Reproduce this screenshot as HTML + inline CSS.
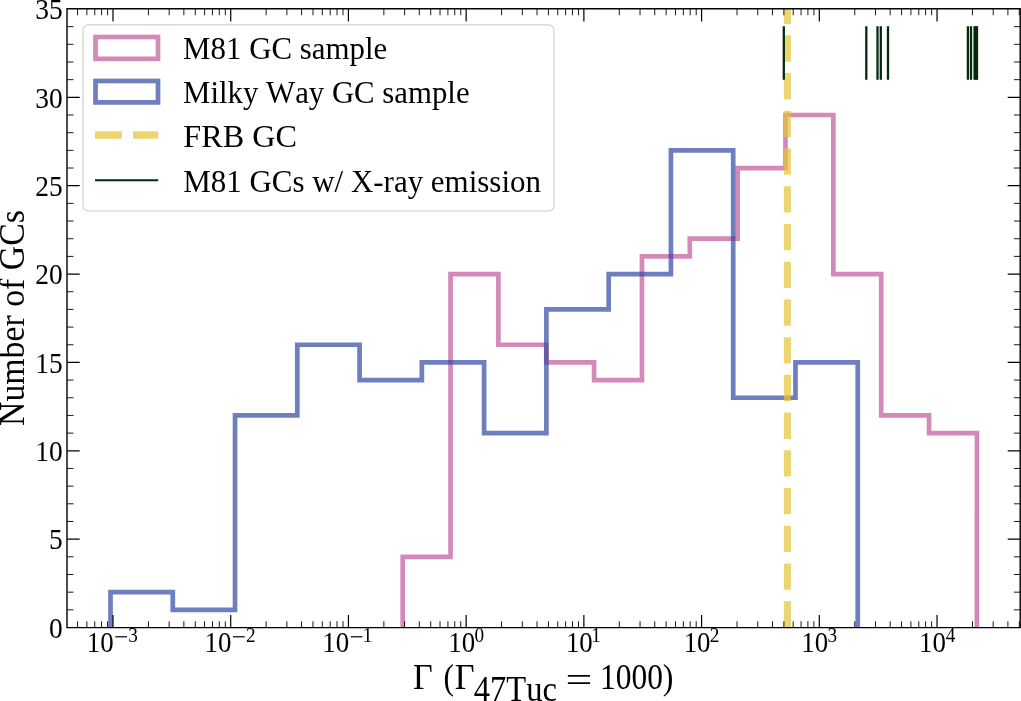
<!DOCTYPE html><html><head><meta charset="utf-8"><style>html,body{margin:0;padding:0;background:#fff;overflow:hidden}svg{display:block}text{font-family:"Liberation Serif", "DejaVu Serif", serif;fill:#000;font-kerning:none;font-variant-ligatures:none}</style></head><body>
<svg width="1021" height="701" viewBox="0 0 1021 701">
<rect width="1021" height="701" fill="#fff"/>
<defs><clipPath id="ax"><rect x="67.2" y="8.98" width="953.00" height="618.52"/></clipPath></defs>
<g clip-path="url(#ax)">
<path d="M402.70,627.50 L402.70,556.81 L450.55,556.81 L450.55,274.06 L498.40,274.06 L498.40,344.75 L546.25,344.75 L546.25,362.42 L594.10,362.42 L594.10,380.09 L641.95,380.09 L641.95,256.39 L689.80,256.39 L689.80,238.72 L737.65,238.72 L737.65,168.03 L785.50,168.03 L785.50,115.01 L833.35,115.01 L833.35,274.06 L881.20,274.06 L881.20,415.44 L929.05,415.44 L929.05,433.11 L976.90,433.11 L976.90,627.50" fill="none" stroke="rgb(194,88,154)" stroke-opacity="0.7" stroke-width="4.7" stroke-linejoin="miter" stroke-linecap="butt"/>
<path d="M110.50,627.50 L110.50,592.16 L172.77,592.16 L172.77,609.83 L235.04,609.83 L235.04,415.44 L297.31,415.44 L297.31,344.75 L359.58,344.75 L359.58,380.09 L421.85,380.09 L421.85,362.42 L484.12,362.42 L484.12,433.11 L546.39,433.11 L546.39,309.40 L608.66,309.40 L608.66,274.06 L670.93,274.06 L670.93,150.36 L733.20,150.36 L733.20,397.76 L795.47,397.76 L795.47,362.42 L857.74,362.42 L857.74,627.50" fill="none" stroke="rgb(48,71,162)" stroke-opacity="0.7" stroke-width="4.7" stroke-linejoin="miter" stroke-linecap="butt"/>
<line x1="787.4" y1="627.5" x2="787.4" y2="-21.02" stroke="rgb(228,197,54)" stroke-opacity="0.7" stroke-width="7.1" stroke-dasharray="26.33 11.39"/>
<line x1="783.8" y1="79.67" x2="783.8" y2="26.3" stroke="#032b0b" stroke-width="2.3"/>
<line x1="866.3" y1="79.67" x2="866.3" y2="26.3" stroke="#032b0b" stroke-width="2.3"/>
<line x1="877.5" y1="79.67" x2="877.5" y2="26.3" stroke="#032b0b" stroke-width="2.3"/>
<line x1="880.8" y1="79.67" x2="880.8" y2="26.3" stroke="#032b0b" stroke-width="2.3"/>
<line x1="888.0" y1="79.67" x2="888.0" y2="26.3" stroke="#032b0b" stroke-width="2.3"/>
<line x1="967.9" y1="79.67" x2="967.9" y2="26.3" stroke="#032b0b" stroke-width="2.3"/>
<line x1="971.0" y1="79.67" x2="971.0" y2="26.3" stroke="#032b0b" stroke-width="2.3"/>
<line x1="974.6" y1="79.67" x2="974.6" y2="26.3" stroke="#032b0b" stroke-width="2.3"/>
<line x1="975.8" y1="79.67" x2="975.8" y2="26.3" stroke="#032b0b" stroke-width="2.3"/>
<line x1="977.0" y1="79.67" x2="977.0" y2="26.3" stroke="#032b0b" stroke-width="2.3"/>
</g>
<path d="M112.99,627.5v-12.5M112.99,8.98v12.5M230.71,627.5v-12.5M230.71,8.98v12.5M348.43,627.5v-12.5M348.43,8.98v12.5M466.15,627.5v-12.5M466.15,8.98v12.5M583.87,627.5v-12.5M583.87,8.98v12.5M701.59,627.5v-12.5M701.59,8.98v12.5M819.31,627.5v-12.5M819.31,8.98v12.5M937.03,627.5v-12.5M937.03,8.98v12.5M67.2,539.14h12.5M1020.2,539.14h-12.5M67.2,450.78h12.5M1020.2,450.78h-12.5M67.2,362.42h12.5M1020.2,362.42h-12.5M67.2,274.06h12.5M1020.2,274.06h-12.5M67.2,185.70h12.5M1020.2,185.70h-12.5M67.2,97.34h12.5M1020.2,97.34h-12.5" stroke="#000" stroke-width="1.2" fill="none"/>
<path d="M77.55,627.5v-6.3M77.55,8.98v6.3M86.87,627.5v-6.3M86.87,8.98v6.3M94.75,627.5v-6.3M94.75,8.98v6.3M101.58,627.5v-6.3M101.58,8.98v6.3M107.60,627.5v-6.3M107.60,8.98v6.3M148.43,627.5v-6.3M148.43,8.98v6.3M169.16,627.5v-6.3M169.16,8.98v6.3M183.86,627.5v-6.3M183.86,8.98v6.3M195.27,627.5v-6.3M195.27,8.98v6.3M204.59,627.5v-6.3M204.59,8.98v6.3M212.47,627.5v-6.3M212.47,8.98v6.3M219.30,627.5v-6.3M219.30,8.98v6.3M225.32,627.5v-6.3M225.32,8.98v6.3M266.15,627.5v-6.3M266.15,8.98v6.3M286.88,627.5v-6.3M286.88,8.98v6.3M301.58,627.5v-6.3M301.58,8.98v6.3M312.99,627.5v-6.3M312.99,8.98v6.3M322.31,627.5v-6.3M322.31,8.98v6.3M330.19,627.5v-6.3M330.19,8.98v6.3M337.02,627.5v-6.3M337.02,8.98v6.3M343.04,627.5v-6.3M343.04,8.98v6.3M383.87,627.5v-6.3M383.87,8.98v6.3M404.60,627.5v-6.3M404.60,8.98v6.3M419.30,627.5v-6.3M419.30,8.98v6.3M430.71,627.5v-6.3M430.71,8.98v6.3M440.03,627.5v-6.3M440.03,8.98v6.3M447.91,627.5v-6.3M447.91,8.98v6.3M454.74,627.5v-6.3M454.74,8.98v6.3M460.76,627.5v-6.3M460.76,8.98v6.3M501.59,627.5v-6.3M501.59,8.98v6.3M522.32,627.5v-6.3M522.32,8.98v6.3M537.02,627.5v-6.3M537.02,8.98v6.3M548.43,627.5v-6.3M548.43,8.98v6.3M557.75,627.5v-6.3M557.75,8.98v6.3M565.63,627.5v-6.3M565.63,8.98v6.3M572.46,627.5v-6.3M572.46,8.98v6.3M578.48,627.5v-6.3M578.48,8.98v6.3M619.31,627.5v-6.3M619.31,8.98v6.3M640.04,627.5v-6.3M640.04,8.98v6.3M654.74,627.5v-6.3M654.74,8.98v6.3M666.15,627.5v-6.3M666.15,8.98v6.3M675.47,627.5v-6.3M675.47,8.98v6.3M683.35,627.5v-6.3M683.35,8.98v6.3M690.18,627.5v-6.3M690.18,8.98v6.3M696.20,627.5v-6.3M696.20,8.98v6.3M737.03,627.5v-6.3M737.03,8.98v6.3M757.76,627.5v-6.3M757.76,8.98v6.3M772.46,627.5v-6.3M772.46,8.98v6.3M783.87,627.5v-6.3M783.87,8.98v6.3M793.19,627.5v-6.3M793.19,8.98v6.3M801.07,627.5v-6.3M801.07,8.98v6.3M807.90,627.5v-6.3M807.90,8.98v6.3M813.92,627.5v-6.3M813.92,8.98v6.3M854.75,627.5v-6.3M854.75,8.98v6.3M875.48,627.5v-6.3M875.48,8.98v6.3M890.18,627.5v-6.3M890.18,8.98v6.3M901.59,627.5v-6.3M901.59,8.98v6.3M910.91,627.5v-6.3M910.91,8.98v6.3M918.79,627.5v-6.3M918.79,8.98v6.3M925.62,627.5v-6.3M925.62,8.98v6.3M931.64,627.5v-6.3M931.64,8.98v6.3M972.47,627.5v-6.3M972.47,8.98v6.3M993.20,627.5v-6.3M993.20,8.98v6.3M1007.90,627.5v-6.3M1007.90,8.98v6.3M1019.31,627.5v-6.3M1019.31,8.98v6.3M67.2,609.83h6.3M1020.2,609.83h-6.3M67.2,592.16h6.3M1020.2,592.16h-6.3M67.2,574.48h6.3M1020.2,574.48h-6.3M67.2,556.81h6.3M1020.2,556.81h-6.3M67.2,521.47h6.3M1020.2,521.47h-6.3M67.2,503.80h6.3M1020.2,503.80h-6.3M67.2,486.12h6.3M1020.2,486.12h-6.3M67.2,468.45h6.3M1020.2,468.45h-6.3M67.2,433.11h6.3M1020.2,433.11h-6.3M67.2,415.44h6.3M1020.2,415.44h-6.3M67.2,397.76h6.3M1020.2,397.76h-6.3M67.2,380.09h6.3M1020.2,380.09h-6.3M67.2,344.75h6.3M1020.2,344.75h-6.3M67.2,327.08h6.3M1020.2,327.08h-6.3M67.2,309.40h6.3M1020.2,309.40h-6.3M67.2,291.73h6.3M1020.2,291.73h-6.3M67.2,256.39h6.3M1020.2,256.39h-6.3M67.2,238.72h6.3M1020.2,238.72h-6.3M67.2,221.04h6.3M1020.2,221.04h-6.3M67.2,203.37h6.3M1020.2,203.37h-6.3M67.2,168.03h6.3M1020.2,168.03h-6.3M67.2,150.36h6.3M1020.2,150.36h-6.3M67.2,132.68h6.3M1020.2,132.68h-6.3M67.2,115.01h6.3M1020.2,115.01h-6.3M67.2,79.67h6.3M1020.2,79.67h-6.3M67.2,62.00h6.3M1020.2,62.00h-6.3M67.2,44.32h6.3M1020.2,44.32h-6.3M67.2,26.65h6.3M1020.2,26.65h-6.3" stroke="#000" stroke-width="0.9" fill="none"/>
<path d="M67.0,627.6V8.8M1020.2,627.6V8.8M66.30,627.6H1020.90M66.30,8.8H1020.90" fill="none" stroke="#000" stroke-width="1.4"/>
<rect x="83.0" y="24.8" width="471" height="186.2" rx="5.5" ry="5.5" fill="#fff" fill-opacity="0.8" stroke="#d0d0d0" stroke-width="1.2"/>
<rect x="95.5" y="37.0" width="62.5" height="21.8" fill="none" stroke="rgb(194,88,154)" stroke-opacity="0.7" stroke-width="4.7"/>
<rect x="95.5" y="81.0" width="62.5" height="21.4" fill="none" stroke="rgb(48,71,162)" stroke-opacity="0.7" stroke-width="4.7"/>
<line x1="95.0" y1="135.0" x2="158.2" y2="135.0" stroke="rgb(228,197,54)" stroke-opacity="0.7" stroke-width="7.4" stroke-dasharray="27 11"/>
<line x1="95.0" y1="180.3" x2="158.2" y2="180.3" stroke="#032b0b" stroke-width="2"/>
<text x="183.11" y="58.90" font-size="32.50" textLength="204.06" lengthAdjust="spacingAndGlyphs">M81 GC sample</text>
<text x="183.11" y="102.80" font-size="32.50" textLength="286.45" lengthAdjust="spacingAndGlyphs">Milky Way GC sample</text>
<text x="183.27" y="146.60" font-size="32.50" textLength="113.71" lengthAdjust="spacingAndGlyphs">FRB GC</text>
<text x="183.21" y="191.50" font-size="32.50" textLength="357.76" lengthAdjust="spacingAndGlyphs">M81 GCs w/ X-ray emission</text>
<text x="48.93" y="637.70" font-size="29.50" textLength="13.72" lengthAdjust="spacingAndGlyphs">0</text>
<text x="48.95" y="549.34" font-size="29.50" textLength="13.72" lengthAdjust="spacingAndGlyphs">5</text>
<text x="35.21" y="460.98" font-size="29.50" textLength="27.44" lengthAdjust="spacingAndGlyphs">10</text>
<text x="35.24" y="372.62" font-size="29.50" textLength="27.44" lengthAdjust="spacingAndGlyphs">15</text>
<text x="35.21" y="284.26" font-size="29.50" textLength="27.44" lengthAdjust="spacingAndGlyphs">20</text>
<text x="35.24" y="195.90" font-size="29.50" textLength="27.44" lengthAdjust="spacingAndGlyphs">25</text>
<text x="35.21" y="107.54" font-size="29.50" textLength="27.44" lengthAdjust="spacingAndGlyphs">30</text>
<text x="35.24" y="19.18" font-size="29.50" textLength="27.44" lengthAdjust="spacingAndGlyphs">35</text>
<text x="86.84" y="652.20" font-size="28.90" textLength="26.88" lengthAdjust="spacingAndGlyphs">10</text>
<rect x="115.29" y="636.2" width="11.7" height="1.2" fill="#000"/>
<text x="128.17" y="642.30" font-size="20.70" textLength="9.63" lengthAdjust="spacingAndGlyphs">3</text>
<text x="204.56" y="652.20" font-size="28.90" textLength="26.88" lengthAdjust="spacingAndGlyphs">10</text>
<rect x="233.01" y="636.2" width="11.7" height="1.2" fill="#000"/>
<text x="245.96" y="642.30" font-size="20.70" textLength="9.63" lengthAdjust="spacingAndGlyphs">2</text>
<text x="322.28" y="652.20" font-size="28.90" textLength="26.88" lengthAdjust="spacingAndGlyphs">10</text>
<rect x="350.73" y="636.2" width="11.7" height="1.2" fill="#000"/>
<text x="362.84" y="642.30" font-size="20.70" textLength="9.63" lengthAdjust="spacingAndGlyphs">1</text>
<text x="448.20" y="652.20" font-size="28.90" textLength="26.88" lengthAdjust="spacingAndGlyphs">10</text>
<text x="474.42" y="642.30" font-size="20.70" textLength="9.63" lengthAdjust="spacingAndGlyphs">0</text>
<text x="565.92" y="652.20" font-size="28.90" textLength="26.88" lengthAdjust="spacingAndGlyphs">10</text>
<text x="591.18" y="642.30" font-size="20.70" textLength="9.63" lengthAdjust="spacingAndGlyphs">1</text>
<text x="683.64" y="652.20" font-size="28.90" textLength="26.88" lengthAdjust="spacingAndGlyphs">10</text>
<text x="709.74" y="642.30" font-size="20.70" textLength="9.63" lengthAdjust="spacingAndGlyphs">2</text>
<text x="801.36" y="652.20" font-size="28.90" textLength="26.88" lengthAdjust="spacingAndGlyphs">10</text>
<text x="827.39" y="642.30" font-size="20.70" textLength="9.63" lengthAdjust="spacingAndGlyphs">3</text>
<text x="919.08" y="652.20" font-size="28.90" textLength="26.88" lengthAdjust="spacingAndGlyphs">10</text>
<text x="945.65" y="642.30" font-size="20.70" textLength="9.63" lengthAdjust="spacingAndGlyphs">4</text>
<g transform="translate(23.9,0) rotate(-90)"><text x="-425.97" y="0.00" font-size="34.80" textLength="215.79" lengthAdjust="spacingAndGlyphs">Number of GCs</text></g>
<text x="413.02" y="689.10" font-size="35.90" textLength="19.68" lengthAdjust="spacingAndGlyphs">Γ</text>
<text x="443.41" y="689.30" font-size="35.90" textLength="10.50" lengthAdjust="spacingAndGlyphs">(</text>
<text x="454.81" y="689.10" font-size="35.90" textLength="19.79" lengthAdjust="spacingAndGlyphs">Γ</text>
<text x="473.76" y="700.70" font-size="35.90" textLength="83.24" lengthAdjust="spacingAndGlyphs">47Tuc</text>
<text x="565.42" y="691.90" font-size="35.90" textLength="26.91" lengthAdjust="spacingAndGlyphs">=</text>
<text x="600.03" y="689.00" font-size="35.90" textLength="62.97" lengthAdjust="spacingAndGlyphs">1000</text>
<text x="662.77" y="689.30" font-size="35.90" textLength="10.63" lengthAdjust="spacingAndGlyphs">)</text>
</svg></body></html>
